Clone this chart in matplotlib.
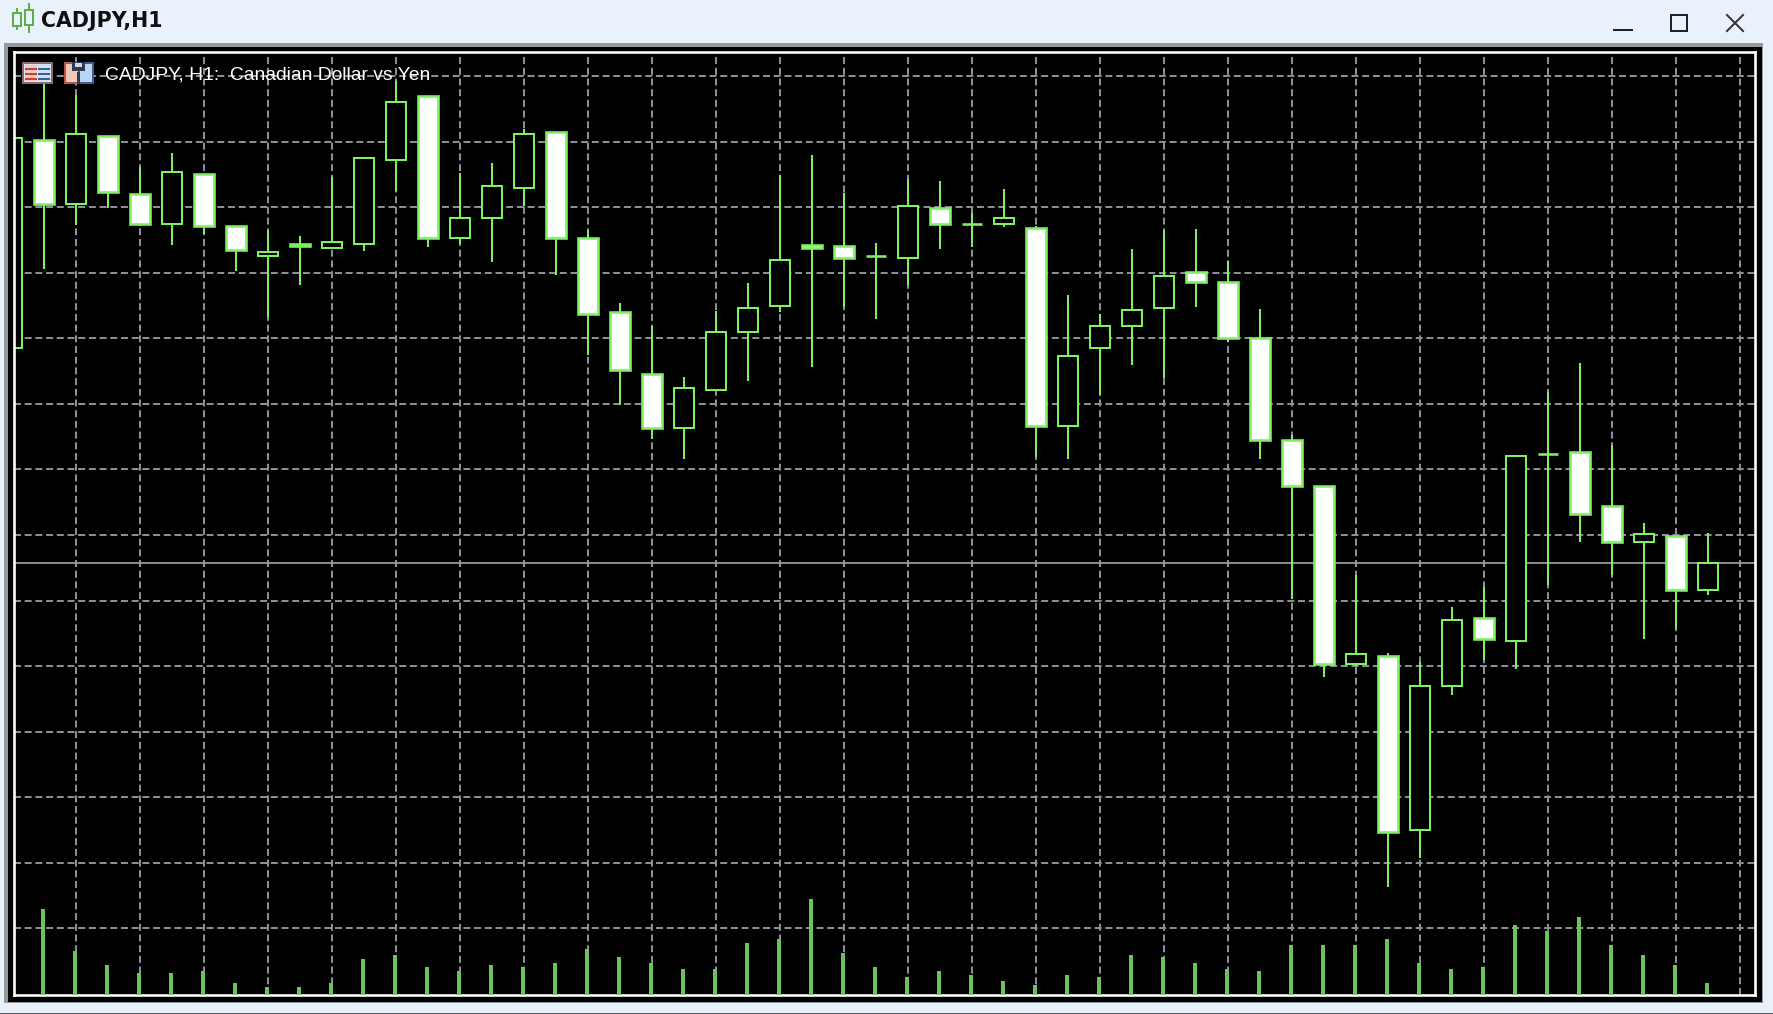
import matplotlib
matplotlib.use('Agg')
import matplotlib.pyplot as plt
from matplotlib.patches import Rectangle
import numpy as np

title_bar = 'CADJPY,H1'
chart_label = 'CADJPY, H1:  Canadian Dollar vs Yen'

# 一小时K线，第一根只露出右半边
opens = [84.185, 84.502, 84.405, 84.508, 84.420, 84.374, 84.450, 84.371, 84.325, 84.344,
         84.338, 84.344, 84.472, 84.569, 84.353, 84.383, 84.429, 84.515, 84.353, 84.240,
         84.145, 84.063, 84.121, 84.209, 84.249, 84.342, 84.341, 84.325, 84.322, 84.399,
         84.374, 84.374, 84.368, 84.066, 84.185, 84.219, 84.246, 84.301, 84.286, 84.200,
         84.045, 83.974, 83.703, 83.715, 83.450, 83.669, 83.773, 83.739, 84.023, 84.026,
         83.944, 83.889, 83.898, 83.816]
highs = [84.505, 84.608, 84.571, 84.508, 84.461, 84.483, 84.450, 84.371, 84.365, 84.356,
         84.446, 84.475, 84.592, 84.569, 84.452, 84.467, 84.519, 84.515, 84.365, 84.254,
         84.219, 84.141, 84.241, 84.284, 84.449, 84.479, 84.421, 84.345, 84.443, 84.440,
         84.391, 84.428, 84.371, 84.266, 84.237, 84.336, 84.365, 84.367, 84.318, 84.244,
         84.052, 83.974, 83.839, 83.720, 83.706, 83.790, 83.820, 84.020, 84.118, 84.162,
         84.037, 83.918, 83.898, 83.903]
lows = [84.185, 84.306, 84.373, 84.399, 84.371, 84.342, 84.359, 84.302, 84.232, 84.281,
        84.338, 84.333, 84.425, 84.339, 84.344, 84.316, 84.402, 84.296, 84.174, 84.098,
        84.046, 84.016, 84.121, 84.135, 84.240, 84.156, 84.248, 84.229, 84.281, 84.336,
        84.339, 84.370, 84.019, 84.016, 84.113, 84.159, 84.139, 84.248, 84.194, 84.016,
        83.802, 83.683, 83.700, 83.363, 83.407, 83.656, 83.710, 83.695, 83.823, 83.890,
        83.839, 83.741, 83.756, 83.808]
closes = [84.505, 84.405, 84.512, 84.423, 84.374, 84.454, 84.371, 84.335, 84.331, 84.341,
          84.347, 84.475, 84.560, 84.353, 84.383, 84.432, 84.512, 84.353, 84.237, 84.151,
          84.063, 84.124, 84.209, 84.246, 84.319, 84.338, 84.322, 84.325, 84.402, 84.374,
          84.374, 84.383, 84.066, 84.173, 84.219, 84.243, 84.295, 84.286, 84.200, 84.045,
          83.974, 83.703, 83.718, 83.447, 83.669, 83.770, 83.742, 84.020, 84.023, 83.932,
          83.889, 83.901, 83.816, 83.858]
volumes = [0, 430, 220, 150, 110, 110, 120, 60, 40, 40,
           60, 180, 200, 140, 120, 150, 140, 160, 230, 190,
           160, 130, 130, 260, 280, 480, 210, 140, 90, 120,
           100, 70, 50, 100, 90, 200, 190, 160, 130, 120,
           250, 250, 250, 280, 160, 130, 140, 350, 320, 390,
           250, 200, 150, 60]
bid = 83.858
grid_prices = [84.6, 84.5, 84.4, 84.3, 84.2, 84.1, 84.0, 83.9, 83.8, 83.7, 83.6, 83.5, 83.4, 83.3]
grid_bars = list(range(2, 56, 2))

W, H = 1774, 1014
BULL = '#7cf25f'
VOL = '#6cc35a'
GRID = '#8b8e96'
plt.rcParams['lines.scale_dashes'] = False
px = 72 / 100  # 一个像素对应的磅数
DASH = (0, (7 * px, 3.7 * px))

fig = plt.figure(figsize=(W / 100, H / 100), dpi=100, facecolor='#e9f1fb')

# 窗口外框
bg = fig.add_axes([0, 0, 1, 1], zorder=0)
bg.set_xlim(0, W)
bg.set_ylim(H, 0)
bg.axis('off')
bg.add_patch(Rectangle((4, 43), 1759, 960, fc='#96989b', ec='none'))
bg.add_patch(Rectangle((8, 47), 1754, 955, fc='black', ec='none'))
bg.add_patch(Rectangle((0, 1013), W, 1, fc='#5c6268', ec='none'))
bg.text(41, 21, title_bar, fontsize=14.8, fontweight='bold', family='DejaVu Sans', color='#101010',
        va='center', ha='left')
# 标题栏小图标
for x0, y0, y1, y2, y3 in [(13, 9, 13, 26, 29), (25, 4, 10, 25, 32)]:
    bg.plot([x0 + 4, x0 + 4], [y0, y3], color='#5fae4a', lw=2 * px)
    bg.add_patch(Rectangle((x0, y1), 8, y2 - y1, fc='#e9f1fb', ec='#5fae4a', lw=2 * px, zorder=3))
# 窗口按钮
bg.plot([1614, 1632], [30, 30], color='#222222', lw=2 * px)
bg.add_patch(Rectangle((1671, 15), 16, 16, fc='none', ec='#222222', lw=2 * px))
bg.plot([1727, 1743], [15, 31], color='#333333', lw=2 * px)
bg.plot([1727, 1743], [31, 15], color='#333333', lw=2 * px)

# 主图
left, right, top, bottom = 14, 1755, 52, 995
ax = fig.add_axes([left / W, 1 - bottom / H, (right - left) / W, (bottom - top) / H], zorder=2)
ax.set_facecolor('black')
ax.set_xlim((left - 12) / 32, (right - 12) / 32)
ax.set_ylim(83.1985, 84.6365)
ax.set_xticks(grid_bars)
ax.set_yticks(grid_prices)
ax.tick_params(left=False, bottom=False, labelleft=False, labelbottom=False)
for s in ax.spines.values():
    s.set_color('white')
    s.set_linewidth(2.6 * px)
    s.set_zorder(6)
for p in grid_prices:
    ax.axhline(p, color=GRID, lw=2 * px, linestyle=DASH, zorder=1)
for b in grid_bars:
    ax.axvline(b, color=GRID, lw=2 * px, linestyle=DASH, zorder=1)
ax.axhline(bid, color='#9a9ca3', lw=1.8 * px, zorder=1.5)

bars = np.arange(len(opens))
ax.vlines(bars, lows, highs, color=BULL, lw=2 * px, zorder=2)
for b, o, c in zip(bars, opens, closes):
    face = 'black' if c > o else 'white'
    edge_w = 2.0 if c > o else 2.6
    ax.add_patch(Rectangle((b - 10 / 32, min(o, c)), 20 / 32, abs(c - o), fc=face, ec=BULL,
                           lw=edge_w * px, zorder=3))

# 成交量画在同一个窗口底部
ax2 = ax.twinx()
ax2.set_ylim(0, (bottom - top) * 5)
ax2.axis('off')
ax2.bar(bars - 1 / 32, volumes, width=4 / 32, color=VOL, zorder=2)

# 图上的文字和两个工具图标
ov = fig.add_axes([0, 0, 1, 1], zorder=5)
ov.set_xlim(0, W)
ov.set_ylim(H, 0)
ov.axis('off')
ov.patch.set_alpha(0)
ov.text(105, 75, chart_label, fontsize=13.85, family='Liberation Sans', color='white', va='center', ha='left')
ov.add_patch(Rectangle((23, 63), 29, 20, fc='#d9e4f2', ec='#8c6a70', lw=2 * px))
ov.add_patch(Rectangle((25, 65), 12, 16, fc='#f3c9bd', ec='none'))
ov.add_patch(Rectangle((38, 65), 12, 16, fc='#cfe2f5', ec='none'))
for yy in [69, 74, 79]:
    ov.plot([26, 36], [yy, yy], color='#c0443a', lw=2 * px)
    ov.plot([39, 49], [yy, yy], color='#3a5f9a', lw=2 * px)
ov.add_patch(Rectangle((65, 63), 14, 20, fc='#f4c7bb', ec='#b5524a', lw=2 * px))
ov.add_patch(Rectangle((79, 63), 14, 20, fc='#b7d6f2', ec='#3a5f9a', lw=2 * px))
ov.add_patch(Rectangle((72, 62), 13, 9, fc='#2b3b55', ec='none'))
ov.add_patch(Rectangle((75, 63), 7, 4, fc='#d8d8d8', ec='none'))
ov.add_patch(Rectangle((77, 72), 3, 12, fc='#2b3b55', ec='none'))

fig.savefig('out.png', dpi=100, facecolor=fig.get_facecolor())
